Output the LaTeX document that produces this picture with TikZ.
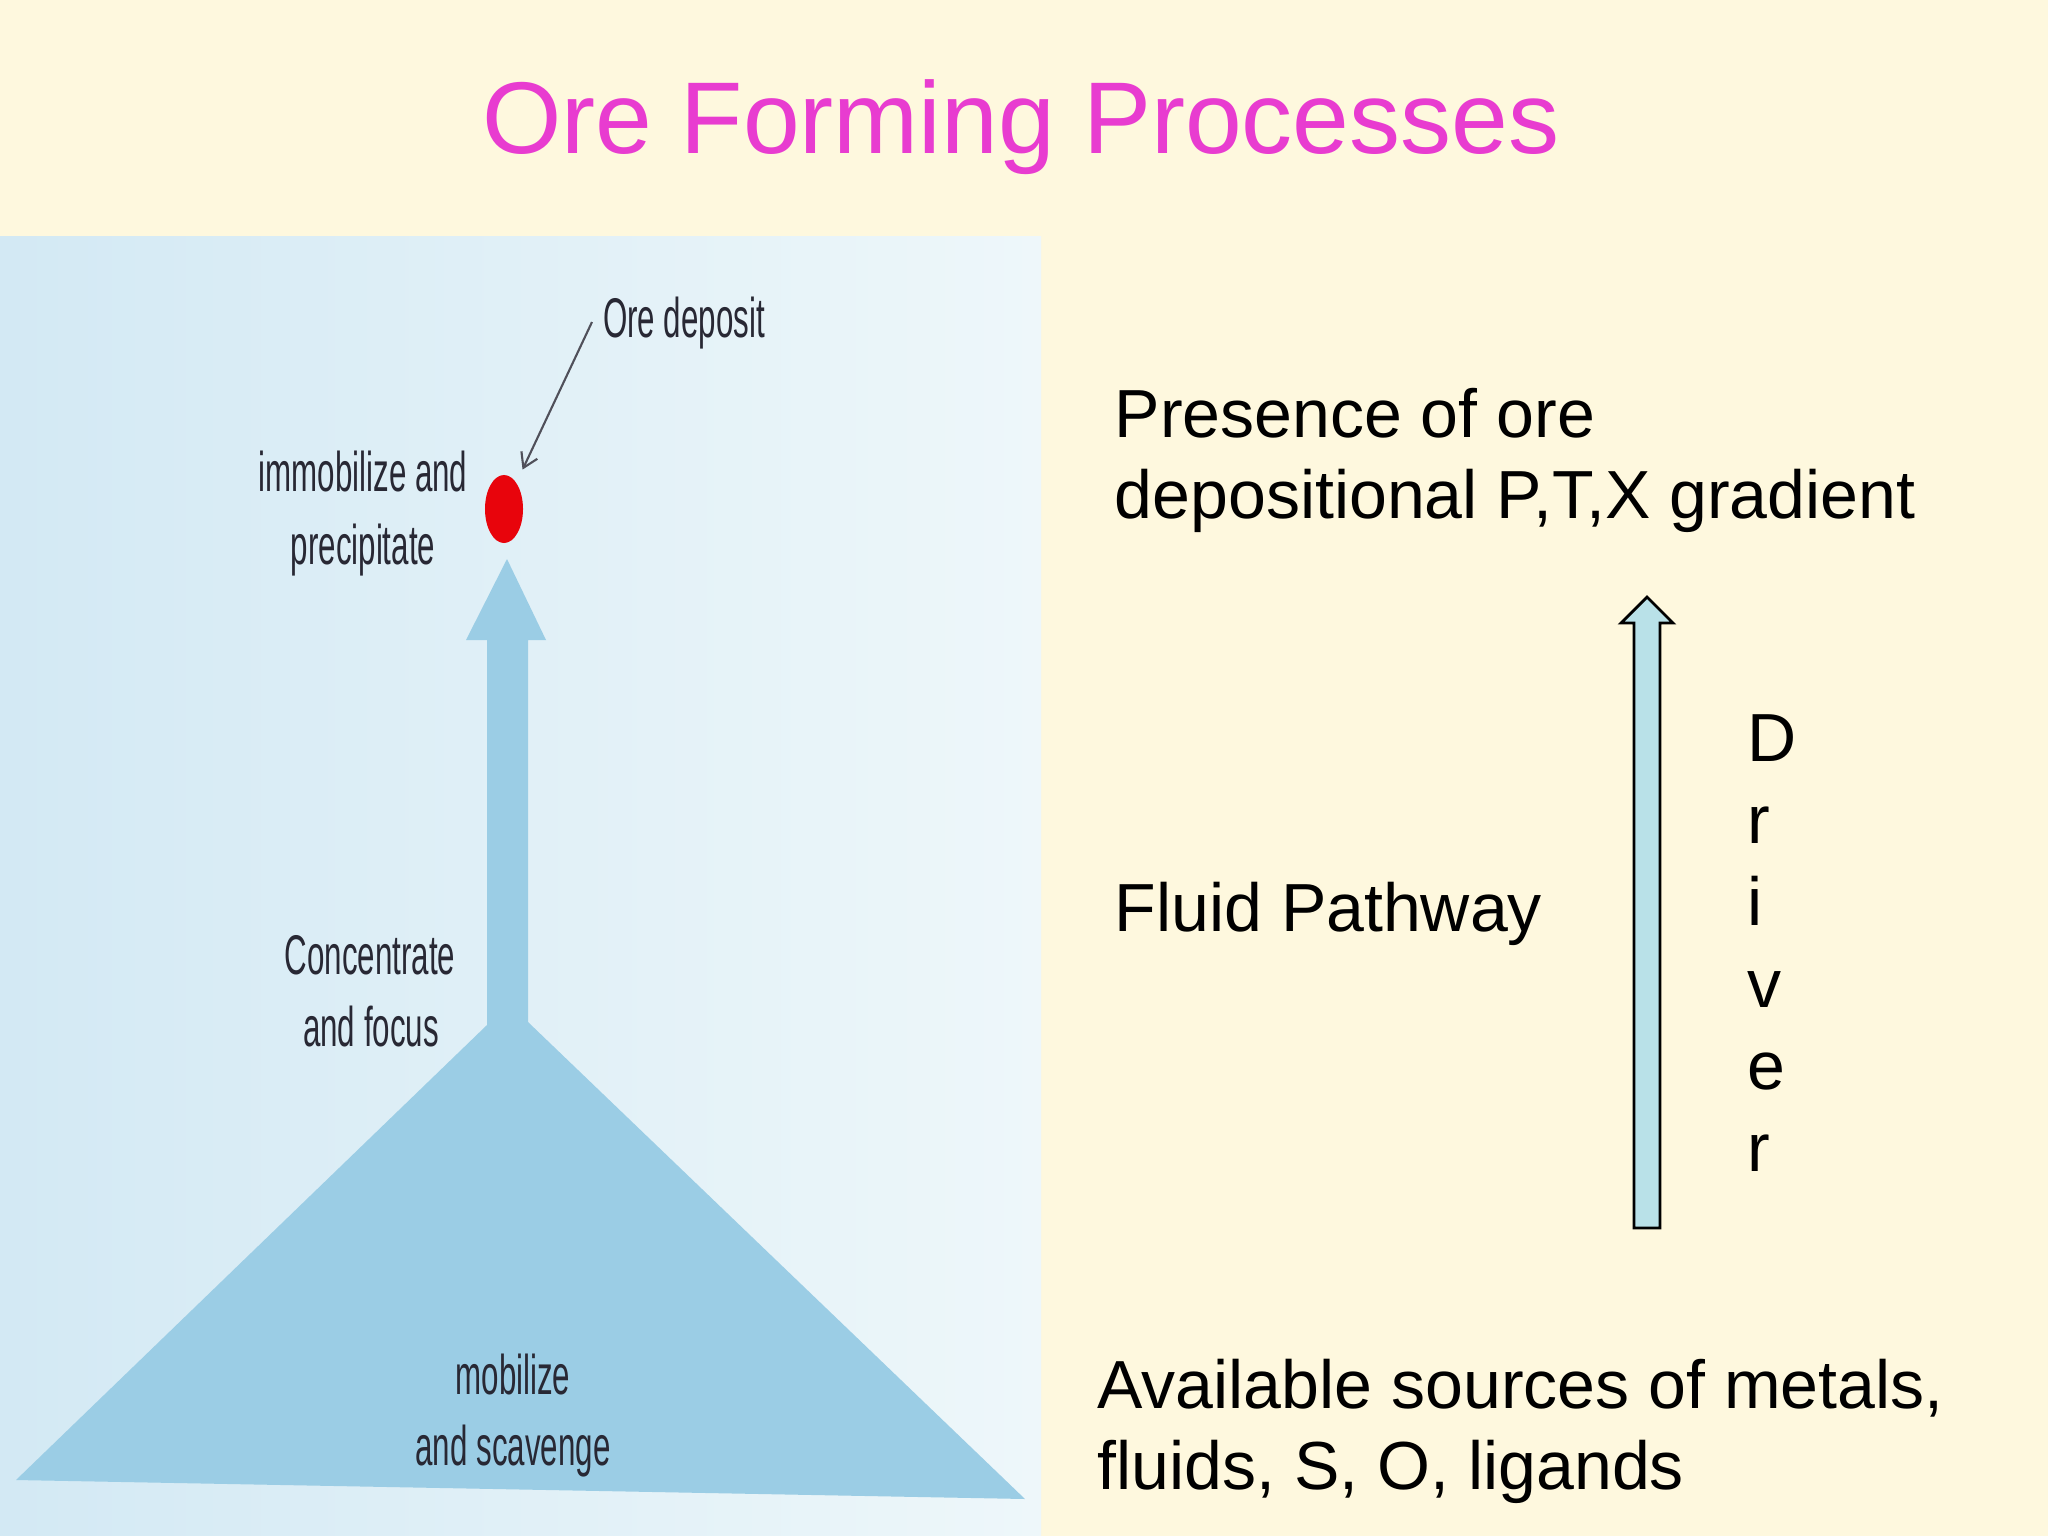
\documentclass[tikz,border=0pt]{standalone}
\usepackage{fontspec}
\setmainfont{Liberation Sans}
\usetikzlibrary{shapes.geometric,arrows.meta}
\definecolor{bgcream}{RGB}{254,248,222}
\definecolor{titlepink}{RGB}{232,60,208}
\definecolor{panelL}{RGB}{211,233,244}
\definecolor{panelR}{RGB}{238,247,250}
\definecolor{flowblue}{RGB}{155,205,229}
\definecolor{oredot}{RGB}{232,4,12}
\definecolor{inkgray}{RGB}{40,40,52}
\definecolor{leadgray}{RGB}{80,80,90}
\definecolor{arrowfill}{RGB}{185,225,232}
\begin{document}
\begin{tikzpicture}[x=0.01cm,y=-0.01cm,
  titletext/.style={font=\fontsize{29}{34}\selectfont, text=titlepink, inner sep=0, anchor=base},
  rtext/.style={font=\fontsize{19.35}{23}\selectfont, text=black, inner sep=0, anchor=base west},
  ptext/.style={font=\fontsize{15.9}{19}\selectfont, text=inkgray, inner sep=0, anchor=base, xscale=0.56},
  oredotstyle/.style={ellipse, fill=oredot, draw=none, inner sep=0, minimum width=0.38cm, minimum height=0.68cm},
  leader/.style={draw=leadgray, line width=0.6pt, -{Straight Barb[length=4pt,width=5pt]}, shorten >=0.14cm},
  blockarrow/.style={fill=arrowfill, draw=black, line width=0.8pt, line join=miter}
]
\useasboundingbox (0,0) rectangle (2048,1536);
\fill[bgcream] (0,0) rectangle (2048,1536);
% title
\node[titletext] (title) at (1021,153) {Ore Forming Processes};
% photo panel
\shade[left color=panelL, right color=panelR] (0,236) rectangle (1041,1536);
\fill[flowblue] (16,1480) -- (487,1025) -- (487,640) -- (466,640) -- (507,559)
  -- (546,640) -- (528,640) -- (528,1022) -- (1025,1499) -- cycle;
\node[oredotstyle] (dot) at (504,509) {};
\node[ptext] (oredep) at (684,337) {Ore deposit};
\coordinate (ldstart) at (592,322);
\draw[leader] (ldstart) -- (dot);
\node[ptext] (imm1) at (363,491) {immobilize and};
\node[ptext] (imm2) at (363,564) {precipitate};
\node[ptext] (con1) at (370,974) {Concentrate};
\node[ptext] (con2) at (371,1046) {and focus};
\node[ptext] (mob1) at (513,1394) {mobilize};
\node[ptext] (mob2) at (513,1465) {and scavenge};
% right side text
\node[rtext] (pres1) at (1114,437) {Presence of ore};
\node[rtext] (pres2) at (1114,518) {depositional P,T,X gradient};
\node[rtext] (fluid) at (1114,931) {Fluid Pathway};
\node[rtext] (avail1) at (1097,1408) {Available sources of metals,};
\node[rtext] (avail2) at (1097,1489) {fluids, S, O, ligands};
% driver arrow
\draw[blockarrow] (1634,1228) -- (1634,623) -- (1621,623) -- (1647,597) -- (1673,623)
  -- (1660,623) -- (1660,1228) -- cycle;
\foreach \ch [count=\i] in {D,r,i,v,e,r}
  \node[rtext] (drv\i) at (1747,679+82*\i) {\ch};
\end{tikzpicture}
\end{document}
